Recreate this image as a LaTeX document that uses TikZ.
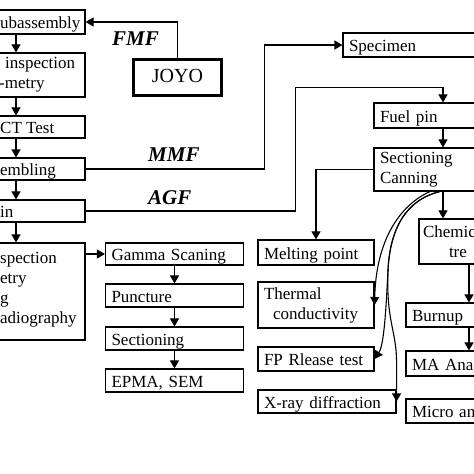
\documentclass[tikz,border=0pt]{standalone}
\usepackage{fontspec}
\setmainfont{Liberation Serif}
\usetikzlibrary{arrows.meta}
\tikzset{
  box/.style={draw, line width=1.1pt, inner xsep=6pt, inner ysep=0pt, align=left},
  oneline/.style={text height=14pt, text depth=0pt},
  wide/.style={text width=126pt},
  narrow/.style={text width=104pt},
  frag/.style={inner sep=0pt, align=left},
  arr/.style={line width=1.1pt, -{Triangle[length=8pt,width=9pt]}},
  lbl/.style={inner sep=0pt, font=\fontsize{21}{24}\selectfont\bfseries\itshape, text height=13.5pt, text depth=0pt}
}
\begin{document}
\begin{tikzpicture}[x=1pt, y=1pt, font=\fontsize{17}{20}\selectfont]
\useasboundingbox (0,0) rectangle (474,474);
\clip (0,0) rectangle (474,474);
\node[box, minimum width=138pt, minimum height=24pt] (sub) at (16,452) {};
\node[box, minimum width=138pt, minimum height=44pt] (insp) at (16,399) {};
\node[box, minimum width=138pt, minimum height=22pt] (ct) at (16,347) {};
\node[box, minimum width=138pt, minimum height=22pt] (asm) at (16,305) {};
\node[box, minimum width=138pt, minimum height=22pt] (pin) at (16,263) {};
\node[box, minimum width=138pt, minimum height=97pt] (insp2) at (16,182.5) {};
\node[frag, oneline, anchor=west] (sub-t) at (0,452) {ubassembly};
\node[frag, anchor=west] (insp-t) at (-1,399) {\hspace*{6pt}inspection\\-metry};
\node[frag, oneline, anchor=west] (ct-t) at (0,347) {CT Test};
\node[frag, oneline, anchor=west] (asm-t) at (0,305) {embling};
\node[frag, oneline, anchor=west] (pin-t) at (0,263) {in};
\node[frag, anchor=west] (insp2-t) at (0,184.5) {spection\\etry\\g\\adiography};
\node[box, oneline, text height=13pt, text depth=3pt, line width=1.6pt, minimum width=89pt, minimum height=37pt, align=center, font=\fontsize{20}{24}\selectfont] (joyo) at (177.5,396.5) {JOYO};
\draw[line width=0.7pt] ([shift={(2.6pt,2.6pt)}]joyo.south west) rectangle ([shift={(-2.6pt,-2.6pt)}]joyo.north east);
\node[lbl, anchor=west] (fmf) at (112,435.5) {FMF};
\node[lbl, anchor=west] (mmf) at (148,319) {MMF};
\node[lbl, anchor=west] (agf) at (148,276) {AGF};
\node[box, oneline, wide, minimum height=22pt] (gamma) at (174.5,220) {Gamma Scaning};
\node[box, oneline, wide, minimum height=23pt] (punct) at (174.5,178.5) {Puncture};
\node[box, oneline, wide, minimum height=23pt] (sect) at (174.5,135.5) {Sectioning};
\node[box, oneline, wide, minimum height=23pt] (epma) at (174.5,93.5) {EPMA, SEM};
\node[box, oneline, wide, minimum height=24pt] (spec) at (412,429) {Specimen};
\node[box, oneline, wide, minimum height=25pt] (fuel) at (443,358.5) {Fuel pin};
\node[box, wide, minimum height=43pt] (secc) at (443,304.5) {Sectioning\\Canning};
\node[box, oneline, narrow, minimum height=25pt] (melt) at (316,221.5) {Melting point};
\node[box, narrow, minimum height=46pt] (therm) at (316,169) {Thermal\\\hspace*{9pt}conductivity};
\node[box, oneline, narrow, minimum height=24pt] (fp) at (316,115) {FP Rlease test};
\node[box, oneline, wide, minimum height=23pt] (xray) at (327,72.5) {X-ray diffraction};
\node[box, wide, inner xsep=4pt, minimum height=45pt] (chem) at (486,232.5) {Chemic\\\hspace*{26pt}tre};
\node[box, oneline, text width=114pt, minimum height=24pt] (burn) at (469,159) {Burnup};
\node[box, oneline, text width=114pt, minimum height=25pt] (ma) at (469,110.5) {MA Ana};
\node[box, oneline, text width=114pt, minimum height=24pt] (micro) at (469,63) {Micro an};
\draw[arr] (joyo.north) |- (sub.east);
\draw[arr] (sub) -- (insp);
\draw[arr] (insp) -- (ct);
\draw[arr] (ct) -- (asm);
\draw[arr] (asm) -- (pin);
\draw[arr] (pin) -- (insp2);
\draw[arr] (insp2.east |- gamma.west) -- (gamma.west);
\draw[arr] (gamma) -- (punct);
\draw[arr] (punct) -- (sect);
\draw[arr] (sect) -- (epma);
\draw[arr] (asm.east) -- ++(179,0) |- (spec.west);
\draw[arr] (pin.east) -- ++(210,0) |- ([yshift=15pt]fuel.north) -- (fuel.north);
\draw[arr] (fuel) -- (secc);
\draw[arr] (secc.west) -| (melt.north);
\draw[arr] (secc.south) -- (secc.south |- chem.north);
\draw[arr] (burn.north |- chem.south) -- (burn.north);
\draw[arr] (burn) -- (ma);
\draw[arr] ([xshift=-13pt]secc.south) .. controls (400,269) and (376,234) .. (therm.east);
\draw[arr] ([xshift=-3pt]secc.south) .. controls (405,274) and (390,244) .. (388,204) .. controls (386,164) and (384,129) .. (fp.east);
\draw[arr] ([xshift=-3pt]secc.south) .. controls (405,274) and (390,244) .. (388,204) .. controls (386,154) and (396,144) .. ([yshift=41.5pt]xray.east) -- (xray.east);
\end{tikzpicture}
\end{document}
